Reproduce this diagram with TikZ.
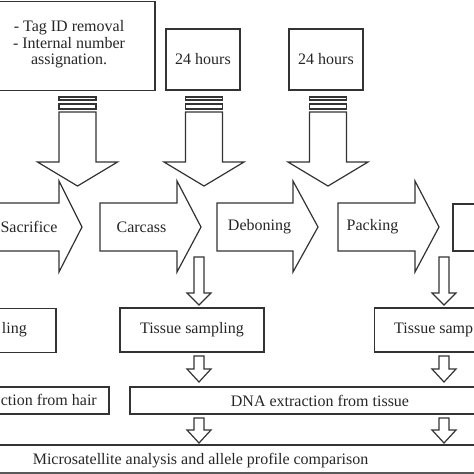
\documentclass[tikz,border=0pt]{standalone}
\usepackage{fontspec}
\setmainfont{Liberation Serif}
\usepackage{tikz}
\usetikzlibrary{shapes,calc}
\tikzstyle{box}=[draw=black!80, line width=1.2pt, inner sep=0pt, font=\fontsize{16}{16.5}\selectfont, text=black!85]
\tikzstyle{txt}=[inner sep=0pt, font=\fontsize{16}{16.5}\selectfont, text=black!85]
\tikzstyle{fat}=[draw=black!80, line width=1.2pt, fill=white, line join=miter]

\begin{document}
\begin{tikzpicture}[x=1pt,y=-1pt]
    \useasboundingbox (0,0) rectangle (474,474);
    \clip (0,0) rectangle (474,474);

    %%%%%  Cajas superiores  %%%%%
    \node (tag) [box, minimum width=160, minimum height=88.5] at (75,46) {};
    \node (tagT) [txt, align=center] at (69,44.5) {- Tag ID removal\\- Internal number\\assignation.};
    \node (h1) [box, minimum width=74, minimum height=61] at (203,59.5) {24 hours};
    \node (h2) [box, minimum width=74, minimum height=61] at (326,59.5) {24 hours};

    %%%%%  Flechas hacia abajo  %%%%%
    \foreach \x in {77.5,204,328} {
      \draw [fat] (\x-18.5,97) rectangle (\x+18.5,100);
      \draw [fat] (\x-18.5,104) rectangle (\x+18.5,109);
      \draw [fat] (\x-18.5,112) -- (\x-18.5,162) -- (\x-40,162) -- (\x,186)
        -- (\x+40,162) -- (\x+18.5,162) -- (\x+18.5,112) -- cycle;
    }

    %%%%%  Etapas  %%%%%
    \foreach \l/\h/\t in {-10/59/82, 100/177/201, 217/293/318, 338/415/439} {
      \draw [fat] (\l,203) -- (\h,203) -- (\h,181) -- (\t,227) -- (\h,272)
        -- (\h,251) -- (\l,251) -- cycle;
    }
    \draw [fat] (453,204) rectangle (490,251);
    \node (sac) [txt] at (29,227) {Sacrifice};
    \node (car) [txt] at (141.5,227) {Carcass};
    \node (deb) [txt] at (259.5,227) {Deboning};
    \node (pac) [txt] at (372.5,227) {Packing};

    %%%%%  Flechas pequeñas  %%%%%
    \foreach \x in {199,444} {
      \foreach \a/\b/\c in {257/293/305, 356/369/382, 418/430/443} {
        \draw [fat] (\x-5,\a) -- (\x-5,\b) -- (\x-12,\b) -- (\x,\c)
          -- (\x+12,\b) -- (\x+5,\b) -- (\x+5,\a) -- cycle;
      }
    }

    %%%%%  Muestreo  %%%%%
    \node (hs) [box, minimum width=61, minimum height=43.5] at (25.5,330.5) {};
    \node (hsT) [txt, anchor=east] at (27,330) {ling};
    \node (ts1) [box, minimum width=144, minimum height=44] at (192,330) {Tissue sampling};
    \node (ts2) [box, minimum width=120, minimum height=44, anchor=west] at (374,330) {};
    \node (ts2T) [txt, anchor=west] at (394,330) {Tissue samp};

    %%%%%  Extraccion de ADN  %%%%%
    \node (dh) [box, minimum width=114, minimum height=27] at (52,400.5) {};
    \node (dhT) [txt, anchor=east] at (97,400) {ction from hair};
    \node (dt) [box, minimum width=380, minimum height=27] at (320,400.5) {DNA extraction from tissue};

    %%%%%  Analisis  %%%%%
    \node (ms) [box, minimum width=500, minimum height=30] at (237,460) {};
    \node (msT) [txt] at (200.5,461) {Microsatellite analysis and allele profile comparison};
    \draw [line width=3pt, black!65] (0,473) -- (474,473);
  \end{tikzpicture}
\end{document}
